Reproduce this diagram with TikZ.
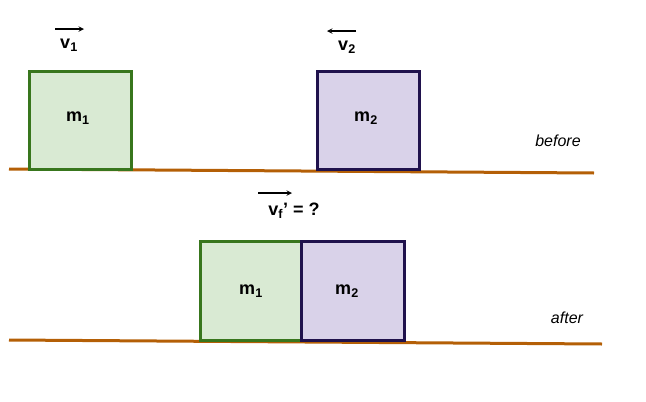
\documentclass[tikz,border=0pt]{standalone}
\usepackage{fontspec}
\setmainfont{Liberation Sans}
\begin{document}
\begin{tikzpicture}[x=1pt,y=-1pt,
  lab/.style={font=\bfseries\fontsize{18}{18}\selectfont},
  it/.style={font=\itshape\fontsize{16}{16}\selectfont},
  vec/.style={-stealth,line width=1.4pt}]
\definecolor{gb}{HTML}{38761D}\definecolor{gf}{HTML}{D9EAD3}
\definecolor{pb}{HTML}{20124D}\definecolor{pf}{HTML}{D9D2E9}
\definecolor{lc}{HTML}{B45F06}
\tikzset{g/.style={draw=gb,fill=gf,line width=3pt},p/.style={draw=pb,fill=pf,line width=3pt},gr/.style={draw=lc,line width=3pt}}
\useasboundingbox (0,0) rectangle (646,402);
\draw[gr] (9,169) -- (594,173);
\draw[g] (29,71) rectangle (131,169);
\node[lab] (m1a) at (78,118) {m$_{\mathbf 1}$};
\draw[p] (317,71) rectangle (419,169);
\node[lab] (m2a) at (366,118) {m$_{\mathbf 2}$};
\node[it] (bef) at (558,141) {before};
\node[lab] (v1) at (69,45) {v$_{\mathbf 1}$};
\coordinate (a1) at (55,29); \coordinate (b1) at (84,29);
\draw[vec] (a1) -- (b1);
\node[lab] (v2) at (347,47) {v$_{\mathbf 2}$};
\coordinate (a2) at (356,31); \coordinate (b2) at (327,31);
\draw[vec] (a2) -- (b2);
\node[lab] (vf) at (294,211) {v$_{\mathbf f}$' = ?};
\coordinate (a3) at (258,193); \coordinate (b3) at (292,193);
\draw[vec] (a3) -- (b3);
\draw[gr] (9,340) -- (602,344);
\draw[g] (200,241) rectangle (301,340);
\draw[p] (301,241) rectangle (404,340);
\node[lab] (m1b) at (251,291) {m$_{\mathbf 1}$};
\node[lab] (m2b) at (347,291) {m$_{\mathbf 2}$};
\node[it] (aft) at (567,318) {after};
\end{tikzpicture}
\end{document}
